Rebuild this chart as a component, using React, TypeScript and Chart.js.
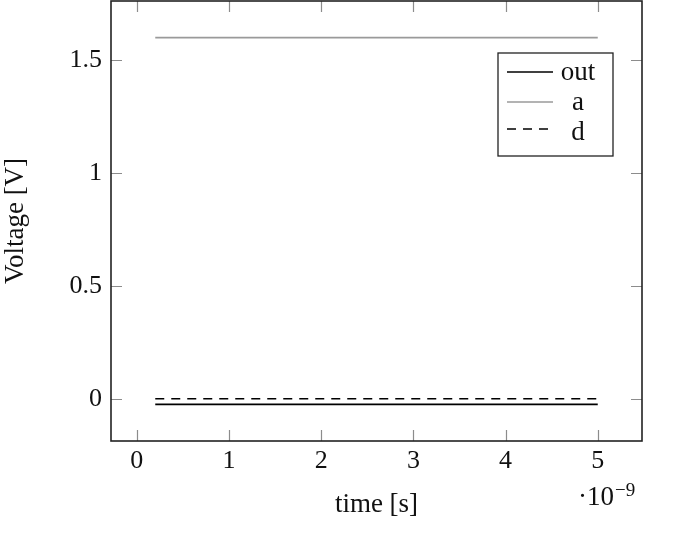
import React, { useEffect, useRef } from "react";
import { Chart, registerables } from "chart.js";

Chart.register(...registerables);

const timeNs = [0.2, 5];
const outV = [-0.025, -0.025];
const aV = [1.6, 1.6];
const dV = [0, 0];
const seriesNames = ["out", "a", "d"];
const xTicks = [0, 1, 2, 3, 4, 5];
const yTicks = [0, 0.5, 1, 1.5];
const yTickLabels = ["0", "0.5", "1", "1.5"];
const xTitle = "time [s]";
const yTitle = "Voltage [V]";
const xMultiplier = "·10";
const xExponent = "−9";

const FONT = "'Liberation Serif', 'Times New Roman', serif";

const framePlugin = {
  id: "frame",
  afterDraw(chart: any) {
    const { ctx, chartArea: ca, scales } = chart;
    const xs = scales.x;
    const ys = scales.y;
    ctx.save();
    // inward ticks
    ctx.strokeStyle = "#8c8c8c";
    ctx.lineWidth = 1.2;
    const tl = 11;
    ctx.beginPath();
    xTicks.forEach((v) => {
      const px = Math.round(xs.getPixelForValue(v)) + 0.5;
      ctx.moveTo(px, ca.bottom);
      ctx.lineTo(px, ca.bottom - tl);
      ctx.moveTo(px, ca.top);
      ctx.lineTo(px, ca.top + tl);
    });
    yTicks.forEach((v) => {
      const py = Math.round(ys.getPixelForValue(v)) + 0.5;
      ctx.moveTo(ca.left, py);
      ctx.lineTo(ca.left + tl, py);
      ctx.moveTo(ca.right, py);
      ctx.lineTo(ca.right - tl, py);
    });
    ctx.stroke();
    // box
    ctx.strokeStyle = "#222";
    ctx.lineWidth = 1.6;
    ctx.strokeRect(ca.left, ca.top, ca.right - ca.left, ca.bottom - ca.top);

    // multiplier
    ctx.fillStyle = "#111";
    ctx.textBaseline = "alphabetic";
    ctx.textAlign = "left";
    ctx.font = `27px ${FONT}`;
    ctx.fillText(xMultiplier, 578, 505);
    const w = ctx.measureText(xMultiplier).width;
    ctx.font = `19px ${FONT}`;
    ctx.fillText(xExponent, 578 + w + 1, 496);

    // legend
    const bx = 498, by = 53, bw = 115, bh = 103;
    ctx.fillStyle = "#fff";
    ctx.fillRect(bx, by, bw, bh);
    ctx.strokeStyle = "#222";
    ctx.lineWidth = 1.3;
    ctx.strokeRect(bx, by, bw, bh);
    const lineYs = [72, 102, 129];
    const textYs = [80, 110, 140];
    chart.data.datasets.forEach((ds: any, i: number) => {
      ctx.beginPath();
      ctx.strokeStyle = ds.borderColor;
      ctx.lineWidth = ds.borderWidth;
      ctx.setLineDash(ds.borderDash || []);
      ctx.moveTo(507, lineYs[i]);
      ctx.lineTo(553, lineYs[i]);
      ctx.stroke();
      ctx.setLineDash([]);
      ctx.fillStyle = "#111";
      ctx.font = `27px ${FONT}`;
      ctx.textAlign = "center";
      ctx.textBaseline = "alphabetic";
      ctx.fillText(ds.label, 578, textYs[i]);
    });
    ctx.restore();
  },
};

export default function App() {
  const ref = useRef<HTMLCanvasElement | null>(null);
  useEffect(() => {
    if (!ref.current) return;
    const mk = (ys: number[]) => timeNs.map((t, i) => ({ x: t, y: ys[i] }));
    const chart = new Chart(ref.current, {
      type: "line",
      data: {
        datasets: [
          { label: seriesNames[0], data: mk(outV), borderColor: "#000", borderWidth: 1.6, pointRadius: 0 },
          { label: seriesNames[1], data: mk(aV), borderColor: "#9a9a9a", borderWidth: 1.6, pointRadius: 0 },
          { label: seriesNames[2], data: mk(dV), borderColor: "#000", borderWidth: 1.6, borderDash: [9, 7], pointRadius: 0 },
        ],
      },
      options: {
        animation: false,
        responsive: false,
        layout: { padding: { left: 0, right: 43, top: 1, bottom: 0 } },
        plugins: { legend: { display: false }, tooltip: { enabled: false } },
        scales: {
          x: {
            type: "linear",
            min: -0.28,
            max: 5.48,
            grid: { display: false, drawTicks: false },
            border: { display: false },
            afterBuildTicks: (s: any) => {
              s.ticks = xTicks.map((v) => ({ value: v }));
            },
            afterFit: (s: any) => {
              s.height = 92;
              s.paddingLeft = 0;
              s.paddingRight = 0;
            },
            ticks: {
              color: "#111",
              font: { family: FONT, size: 26 },
              padding: 5,
              maxRotation: 0,
              callback: (v: any) => String(v),
            },
            title: {
              display: true,
              text: xTitle,
              color: "#111",
              font: { family: FONT, size: 27 },
              padding: { top: 0, bottom: 12 },
            },
          },
          y: {
            type: "linear",
            min: -0.1875,
            max: 1.7625,
            grid: { display: false, drawTicks: false },
            border: { display: false },
            afterBuildTicks: (s: any) => {
              s.ticks = yTicks.map((v) => ({ value: v }));
            },
            afterFit: (s: any) => {
              s.width = 111;
              s.paddingTop = 0;
              s.paddingBottom = 0;
            },
            ticks: {
              color: "#111",
              font: { family: FONT, size: 26 },
              padding: 9,
              callback: (v: any) => {
                const i = yTicks.indexOf(Number(v));
                return i >= 0 ? yTickLabels[i] : "";
              },
            },
            title: {
              display: true,
              text: yTitle,
              color: "#111",
              font: { family: FONT, size: 27 },
              padding: { top: 0, bottom: 0 },
            },
          },
        },
      },
      plugins: [framePlugin],
    });
    return () => chart.destroy();
  }, []);
  return (
    <div style={{ position: "absolute", left: 0, top: 0, width: 685, height: 533, background: "#fff" }}>
      <canvas ref={ref} width={685} height={533} style={{ width: 685, height: 533, display: "block" }} />
    </div>
  );
}
